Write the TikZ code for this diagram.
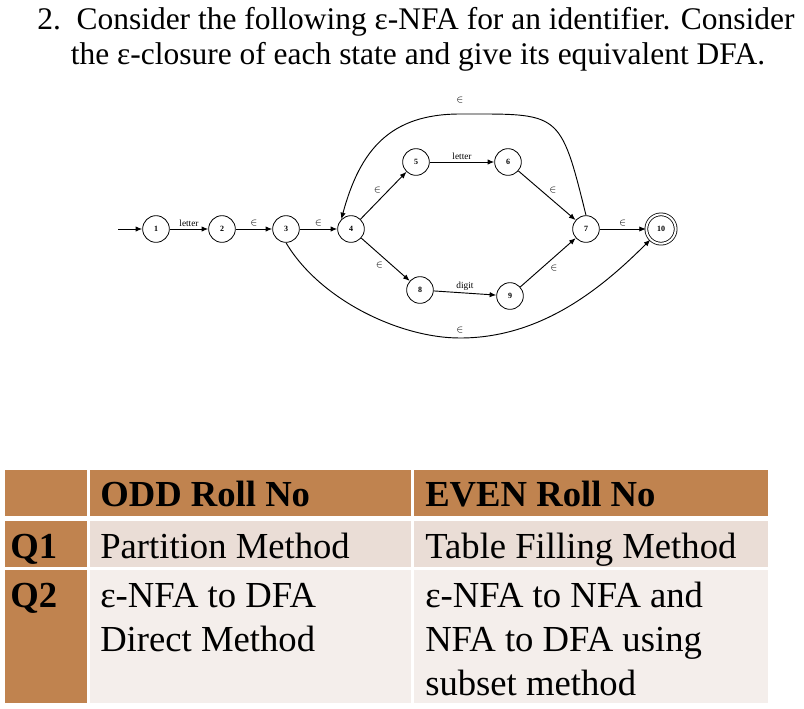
\documentclass[tikz,border=0pt]{standalone}
\usepackage{fontspec}
\setmainfont{Liberation Serif}
\usetikzlibrary{arrows.meta}
\definecolor{brn}{HTML}{C0834F}
\definecolor{r1}{HTML}{EADDD6}
\definecolor{r2}{HTML}{F4EEEB}
\tikzset{
 st/.style={circle,draw,line width=0.6pt,minimum size=20pt,inner sep=0pt,font=\fontsize{6}{7}\selectfont\bfseries},
 tr/.style={-{Latex[length=5pt,width=4pt]},line width=0.7pt},
 lb/.style={font=\fontsize{7}{8}\selectfont,inner sep=1.5pt},
 big/.style={font=\fontsize{27.5}{33}\selectfont,anchor=base west,inner sep=0pt,align=left},
 bigb/.style={big,font=\fontsize{27.5}{33}\selectfont\bfseries},
 ttl/.style={font=\fontsize{23.6}{26}\selectfont,inner sep=0pt}
}
\begin{document}
\begin{tikzpicture}[x=0.75pt,y=-0.75pt]
\useasboundingbox (0,0) rectangle (804,708);
\node[ttl,anchor=west] (t1) at (37,22) {2.\ \ Consider the following ε-NFA for an identifier. Consider};
\node[ttl] (t2) at (418,57) {the ε-closure of each state and give its equivalent DFA.};
% states
\node[st] (n1) at (156,229) {1};
\node[st] (n2) at (222,229) {2};
\node[st] (n3) at (286,229) {3};
\node[st] (n4) at (351,229) {4};
\node[st] (n5) at (416,162) {5};
\node[st] (n6) at (508,162) {6};
\node[st] (n7) at (586,229) {7};
\node[st,double,double distance=1.5pt,minimum size=22pt] (n10) at (661,229) {10};
\node[st] (n8) at (420,290) {8};
\node[st] (n9) at (510,296) {9};
\coordinate (s0) at (118,229);
\draw[tr] (s0) -- (n1);
\draw[tr] (n1) -- node[lb,above]{letter} (n2);
\draw[tr] (n2) -- node[lb,above]{$\in$} (n3);
\draw[tr] (n3) -- node[lb,above]{$\in$} (n4);
\draw[tr] (n4) -- node[lb,above left]{$\in$} (n5);
\draw[tr] (n5) -- node[lb,above]{letter} (n6);
\draw[tr] (n6) -- node[lb,above right]{$\in$} (n7);
\draw[tr] (n4) -- node[lb,below left]{$\in$} (n8);
\draw[tr] (n8) -- node[lb,above]{digit} (n9);
\draw[tr] (n9) -- node[lb,below right]{$\in$} (n7);
\draw[tr] (n7) -- node[lb,above]{$\in$} (n10);
\draw[tr] (n7.north) .. controls (560,110) and (560,114) .. (460,114) node[lb,above=6pt]{$\in$} .. controls (390,114) and (360,150) .. (n4.north west);
\draw[tr] (n3.south) .. controls (320,300) and (400,338) .. (460,338) node[lb,above=2pt]{$\in$} .. controls (540,338) and (600,290) .. (n10.south west);
% table
\fill[brn] (5,470) rectangle (87,516);
\fill[brn] (90,470) rectangle (411,516);
\fill[brn] (414,470) rectangle (768,516);
\fill[brn] (5,521) rectangle (87,567);
\fill[r1] (90,521) rectangle (411,567);
\fill[r1] (414,521) rectangle (768,567);
\fill[brn] (5,570) rectangle (87,703);
\fill[r2] (90,570) rectangle (411,703);
\fill[r2] (414,570) rectangle (768,703);
\node[bigb] (h1) at (100,506) {ODD Roll No};
\node[bigb] (h2) at (425,506) {EVEN Roll No};
\node[bigb] (q1) at (10,558) {Q1};
\node[bigb] (q2) at (10,607) {Q2};
\node[big] (c11) at (100,558) {Partition Method};
\node[big] (c12) at (425,558) {Table Filling Method};
\node[big] (c21) at (100,607) {ε-NFA to DFA};
\node[big] (c21b) at (100,651) {Direct Method};
\node[big] (c22) at (425,607) {ε-NFA to NFA and};
\node[big] (c22b) at (425,651) {NFA to DFA using};
\node[big] (c22c) at (425,695) {subset method};
\end{tikzpicture}
\end{document}
